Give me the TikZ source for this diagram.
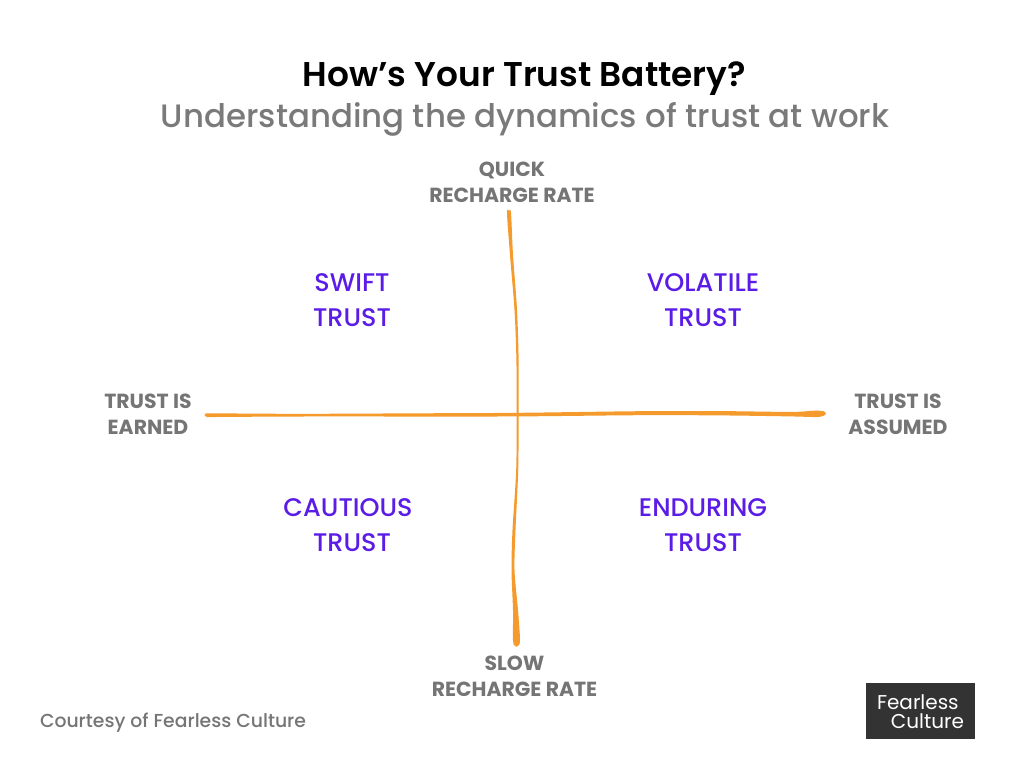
\documentclass[tikz,border=0pt]{standalone}
\usepackage{fontspec}
\setmainfont{Poppins}
\newfontfamily\pmed{Poppins Medium}
\newfontfamily\psemi{Poppins SemiBold}
\newfontfamily\plight{Poppins}
\definecolor{axisor}{HTML}{F59A2C}
\definecolor{labgray}{HTML}{757575}
\definecolor{subgray}{HTML}{7A7A7A}
\definecolor{quadv}{HTML}{5A1CE6}
\definecolor{logobg}{HTML}{333333}
\newcommand{\fs}[2]{\fontsize{#1pt}{#2pt}\selectfont}
\tikzset{
  x=0.75pt,y=-0.75pt,
  txt/.style={inner sep=0pt,outer sep=0pt,align=center},
  ttl/.style={txt,text=black,font=\psemi\fs{25.75}{30}},
  sub/.style={txt,text=subgray,font=\pmed\fs{24.3}{30}},
  lab/.style={txt,text=labgray,font=\bfseries\fs{15.3}{19.5}},
  quad/.style={txt,text=quadv,font=\pmed\fs{19.1}{26.25}},
  axisfill/.style={fill=axisor,draw=none},
}
\begin{document}
\begin{tikzpicture}
\useasboundingbox (0,0) rectangle (1024,768);
\fill[white] (0,0) rectangle (1024,768);
\node[ttl] (title) at (524.5,79) {How’s Your Trust Battery?};
\node[sub] (subtitle) at (525,119) {Understanding the dynamics of trust at work};
\node[lab] (top) at (512,182.5) {QUICK\\RECHARGE RATE};
\node[lab] (bottom) at (514.5,676.5) {SLOW\\RECHARGE RATE};
\node[lab] (left) at (148,414.5) {TRUST IS\\EARNED};
\node[lab] (right) at (898,414.5) {TRUST IS\\ASSUMED};
\node[quad] (q1) at (352,300) {SWIFT\\TRUST};
\node[quad] (q2) at (703,300) {VOLATILE\\TRUST};
\node[quad] (q3) at (348,525) {CAUTIOUS\\\hspace*{6pt}TRUST};
\node[quad] (q4) at (703,525) {ENDURING\\TRUST};
% hand-drawn axes
\fill[axisfill] plot[smooth cycle,tension=0.6] coordinates {
 (204.5,415) (206,413.5) (209,413.3) (300,413.8) (420,413.3) (518,412.8) (640,411.2) (720,411.1) (790,411.9) (812,410.8) (821,410.8) (825,412) (825.5,414.5) (821,416.6) (812,417) (790,416.4) (720,415.4) (640,415.2) (518,416.4) (420,416.5) (300,416.5) (215,417) (208,417) (206,416.5)};
\fill[axisfill] plot[smooth cycle,tension=0.5] coordinates {
 (507,213) (509,211) (511,213) (513,255) (517,310) (518.6,360) (518.6,414) (518.2,470) (515.5,530) (514.5,570) (518,610) (520,640) (518,646) (515,646) (513,640) (513,610) (511.5,570) (512.5,530) (516.2,470) (516.6,414) (516.4,360) (514.5,310) (510,255)};
% logo
\node[fill=logobg,minimum width=81.75pt,minimum height=42pt,inner sep=0pt] (logo) at (920.5,711) {};
\node[txt,text=white,font=\plight\fs{15}{16},anchor=base west] (fear) at (877,709) {Fearless};
\node[txt,text=white,font=\plight\fs{15}{16},anchor=base east] (cult) at (964,728.5) {Culture};
\node[txt,text=labgray,font=\pmed\fs{14.1}{16},anchor=base west] (court) at (40,727) {Courtesy of Fearless Culture};
\end{tikzpicture}
\end{document}
